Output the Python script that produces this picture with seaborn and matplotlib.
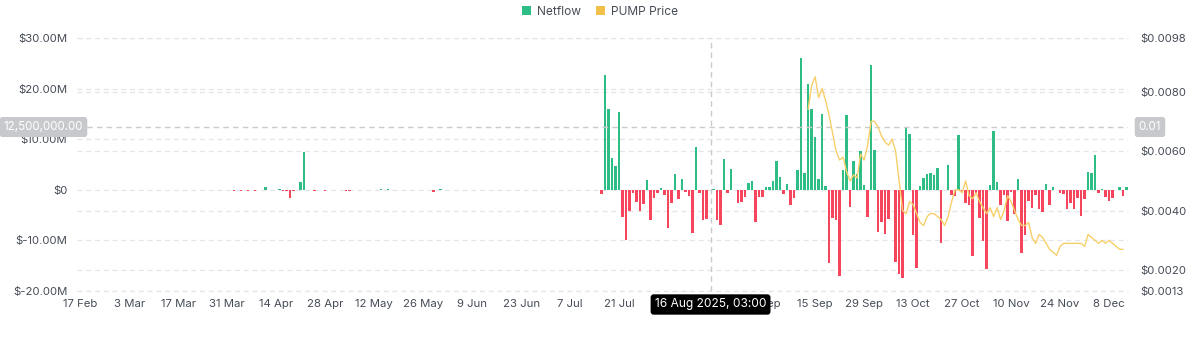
import matplotlib
matplotlib.use("Agg")
import matplotlib.pyplot as plt
import matplotlib.dates as mdates
import matplotlib.transforms as mtransforms
from matplotlib.patches import Patch
import seaborn as sns
import pandas as pd

# ---------------- data ----------------
# Daily netflow in $M, spring segment (1 Apr - 31 May 2025)
spring_start = "2025-04-01"
netflow_spring = [
    -0.1, -0.3, -0.1, -0.2, -0.1, -0.3, -0.1, -0.3, -0.1, 0.0,
    0.5, 0.0, 0.05, -0.1, 0.2, -0.3, -0.3, -1.6, -0.3, 0.0,
    1.5, 7.5, -0.1, -0.1, -0.2, -0.1, -0.1, -0.2, -0.1, 0.0,
    -0.05, 0.0, -0.1, -0.2, -0.2, -0.1, -0.05, 0.0, -0.05, -0.1,
    -0.05, 0.0, 0.05, 0.1, 0.05, 0.1, 0.0, -0.05, -0.1, -0.05,
    -0.05, -0.05, 0.0, 0.0, 0.0, 0.0, 0.0, -0.1, -0.5, 0.05,
    0.2,
]
# Daily netflow in $M, main segment (16 Jul - 13 Dec 2025)
fall_start = "2025-07-16"
netflow_fall = [
    -0.8, 22.6, 15.9, 6.3, 4.8, 15.4, -5.3, -10.0, -4.2, -0.6,
    -2.4, -4.1, -2.8, 1.9, -5.9, -1.7, -0.7, 0.3, -1.1, -7.6,
    -2.6, 3.2, -1.8, 2.2, -0.5, -1.3, -8.6, 8.4, -0.7, -5.9,
    -5.7, 0.0, 0.2, -6.0, -6.9, 6.1, -0.7, 4.2, 0.0, -2.6,
    -2.4, -1.5, 1.3, 1.8, -6.3, -1.5, -1.5, 0.6, 0.6, 1.7,
    5.7, 2.6, -0.8, 1.2, -3.0, -1.7, 4.0, 26.1, 3.4, 20.9,
    15.9, 10.5, 2.2, 14.9, 0.7, -14.5, -5.5, -5.9, -17.0, 3.9,
    14.7, -3.4, 5.6, 3.2, 7.6, 0.9, -5.3, 24.6, 7.9, -8.4,
    -6.4, -8.7, -5.7, -0.1, -14.3, -16.6, -17.5, 12.5, 11.0, -9.0,
    -15.5, 0.7, 2.3, 3.2, 3.4, 3.0, 4.4, -10.6, 0.0, 5.0,
    -1.0, -1.3, 10.9, -0.5, -2.6, -3.0, -13.1, -0.9, -5.6, -10.2,
    -15.6, 0.9, 11.6, 1.6, -3.1, -1.1, -6.2, -0.5, -4.8, 2.1,
    -12.4, -8.9, -2.3, -3.5, -1.0, -3.8, -4.4, 1.1, -3.0, 0.6,
    -0.1, -0.6, -0.9, -3.8, -2.6, -3.8, -1.7, -5.1, -1.8, 3.6,
    3.3, 6.8, -0.6, 0.2, -1.4, -2.3, -1.7, 0.0, 0.5, -1.2,
    0.5,
]
# Daily PUMP price in $ (13 Sep - 12 Dec 2025)
price_start = "2025-09-13"
price = [
    0.0074, 0.0082, 0.0085, 0.0078, 0.0081, 0.0077, 0.0072, 0.0066, 0.0060, 0.0057,
    0.0058, 0.0053, 0.0050, 0.0052, 0.0051, 0.0059, 0.0057, 0.0062, 0.0070, 0.0070,
    0.0068, 0.0065, 0.0063, 0.0062, 0.0064, 0.0060, 0.0050, 0.0040, 0.0039, 0.0043,
    0.0042, 0.0039, 0.0036, 0.0035, 0.0038, 0.0039, 0.0039, 0.0038, 0.0037, 0.0035,
    0.0038, 0.0043, 0.0047, 0.0047, 0.0046, 0.0050, 0.0045, 0.0044, 0.0046, 0.0043,
    0.0041, 0.0039, 0.0041, 0.0038, 0.0041, 0.0037, 0.0040, 0.0045, 0.0043, 0.0040,
    0.0037, 0.0035, 0.0035, 0.0036, 0.0031, 0.0029, 0.0032, 0.0031, 0.0029, 0.0027,
    0.0026, 0.0025, 0.0028, 0.0029, 0.0029, 0.0029, 0.0029, 0.0029, 0.0029, 0.0028,
    0.0032, 0.0031, 0.0030, 0.0029, 0.0030, 0.0029, 0.0030, 0.0029, 0.0028, 0.0027,
    0.0027,
]
x_tick_labels = ["17 Feb", "3 Mar", "17 Mar", "31 Mar", "14 Apr", "28 Apr", "12 May",
                 "26 May", "9 Jun", "23 Jun", "7 Jul", "21 Jul", "4 Aug", "18 Aug",
                 "1 Sep", "15 Sep", "29 Sep", "13 Oct", "27 Oct", "10 Nov", "24 Nov",
                 "8 Dec"]
left_ticks = [-20, -10, 0, 10, 20, 30]
left_tick_labels = ["$-20.00M", "$-10.00M", "$0", "$10.00M", "$20.00M", "$30.00M"]
right_ticks = [0.0013, 0.0020, 0.0040, 0.0060, 0.0080, 0.0098]
right_tick_labels = ["$0.0013", "$0.0020", "$0.0040", "$0.0060", "$0.0080", "$0.0098"]
crosshair_time = "2025-08-16 03:00"
crosshair_value = 12.5
crosshair_time_label = "16 Aug 2025, 03:00"
crosshair_left_label = "12,500,000.00"
crosshair_right_label = "0.01"

# ---------------- build frames ----------------
spring_dates = pd.date_range(spring_start, periods=len(netflow_spring), freq="D")
fall_dates = pd.date_range(fall_start, periods=len(netflow_fall), freq="D")
flow = pd.DataFrame({
    "date": list(spring_dates) + list(fall_dates),
    "netflow": netflow_spring + netflow_fall,
})
flow["x"] = mdates.date2num(flow["date"])
flow["sign"] = ["pos" if v >= 0 else "neg" for v in flow["netflow"]]

price_df = pd.DataFrame({
    "date": pd.date_range(price_start, periods=len(price), freq="D"),
    "price": price,
})
price_df["x"] = mdates.date2num(price_df["date"])

GREEN = "#2EBD85"
RED = "#F6465D"
YELLOW = "#F0C04A"
LINE = "#F8D06A"
TXT = "#474D57"
GRID = "#E3E5E8"

sns.set_theme(style="white")
plt.rcParams["font.family"] = ["Inter", "DejaVu Sans"]

fig = plt.figure(figsize=(12, 3.4), dpi=100)
ax = fig.add_axes([77 / 1200, 49 / 340, (1128 - 77) / 1200, 253 / 340])
ax2 = ax.twinx()

# bars
sns.barplot(data=flow, x="x", y="netflow", hue="sign",
            palette={"pos": GREEN, "neg": RED}, native_scale=True,
            dodge=False, width=0.66, linewidth=0, errorbar=None,
            saturation=1, legend=False, ax=ax, zorder=2)

# price line
sns.lineplot(data=price_df, x="x", y="price", ax=ax2, color=LINE,
             linewidth=1.0, zorder=3)

# axes limits
t0 = mdates.date2num(pd.Timestamp("2025-02-17"))
ax.set_xlim(t0 - 0.9, t0 + 299.4)
ax.set_ylim(-20, 30)
ax2.set_ylim(0.0013, 0.0098)

tick_dates = [pd.Timestamp(lbl + " 2025") for lbl in x_tick_labels]
ax.set_xticks(mdates.date2num(tick_dates))
ax.set_xticklabels(x_tick_labels)
ax.set_yticks(left_ticks)
ax.set_yticklabels(left_tick_labels)
ax2.set_yticks(right_ticks)
ax2.set_yticklabels(right_tick_labels)

for a in (ax, ax2):
    for s in a.spines.values():
        s.set_visible(False)
    a.set_xlabel("")
    a.set_ylabel("")
    a.tick_params(length=0, labelsize=8.2, labelcolor=TXT)
ax.tick_params(axis="y", pad=7)
ax.tick_params(axis="x", pad=6)
ax2.tick_params(axis="y", pad=9)
ax.patch.set_visible(False)

# gridlines (left and right scales), drawn beneath bars
dash = (0, (4, 3))
for v in left_ticks:
    ax.axhline(v, color=GRID, lw=0.9, ls=dash, zorder=0.5)
blend = mtransforms.blended_transform_factory(ax.transAxes, ax2.transData)
for p in right_ticks:
    ax.plot([0, 1], [p, p], transform=blend, color=GRID, lw=0.9, ls=dash,
            zorder=0.5, clip_on=False)

# crosshair
cx = mdates.date2num(pd.Timestamp(crosshair_time))
ax2.axvline(cx, color="#C8CBCF", lw=1.0, ls=dash, zorder=4)
ax.axhline(crosshair_value, color="#C8CBCF", lw=1.0, ls=dash, zorder=4)

fig.text(43.5 / 1200, 1 - 127 / 340, crosshair_left_label, ha="center", va="center",
         color="white", fontsize=8.3,
         bbox=dict(boxstyle="round,pad=0.35,rounding_size=0.25", fc="#C7C9CC", ec="none"))
fig.text(1150 / 1200, 1 - 127 / 340, crosshair_right_label, ha="center", va="center",
         color="white", fontsize=8.3,
         bbox=dict(boxstyle="round,pad=0.35,rounding_size=0.25", fc="#C7C9CC", ec="none"))
xfig = ax.transData.transform((cx, 0))[0] / fig.bbox.width
fig.text(xfig, 1 - 304.5 / 340, crosshair_time_label, ha="center", va="center",
         color="white", fontsize=8.6,
         bbox=dict(boxstyle="round,pad=0.35,rounding_size=0.25", fc="black", ec="none"))

# legend
handles = [Patch(facecolor=GREEN, edgecolor="none", label="Netflow"),
           Patch(facecolor=YELLOW, edgecolor="none", label="PUMP Price")]
fig.legend(handles=handles, loc="center", bbox_to_anchor=(600 / 1200, 1 - 12 / 340),
           ncol=2, frameon=False, fontsize=8.6, labelcolor=TXT,
           handlelength=0.75, handleheight=0.75, handletextpad=0.5,
           columnspacing=1.3, borderaxespad=0)

fig.savefig("out.png", dpi=100)
